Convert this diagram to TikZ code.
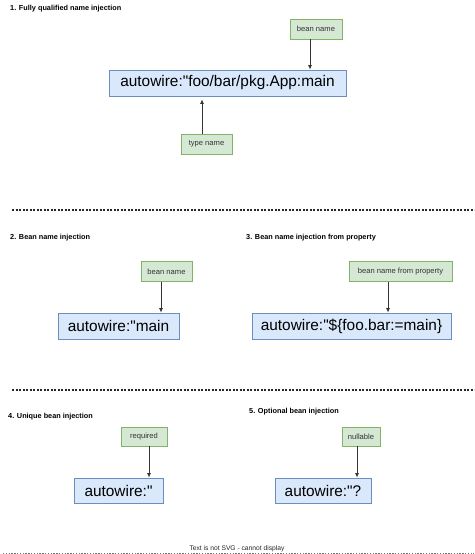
\documentclass[tikz,border=0pt]{standalone}
\usepackage{fontspec}
\setmainfont{Liberation Sans}
\usetikzlibrary{arrows.meta}
\font\boxfont="Liberation Sans" at 15.4pt
\definecolor{bluefill}{HTML}{DAE8FC}
\definecolor{bluedraw}{HTML}{6C8EBF}
\definecolor{greenfill}{HTML}{D5E8D4}
\definecolor{greendraw}{HTML}{82B366}
\tikzset{
  mainbox/.style={draw=bluedraw, fill=bluefill, line width=0.8pt, inner sep=0pt, font=\boxfont},
  tagbox/.style={draw=greendraw, fill=greenfill, line width=0.8pt, inner sep=0pt, minimum height=20pt, font=\fontsize{7.6}{9}\selectfont, text=black!80},
  title/.style={anchor=west, inner sep=0pt, font=\fontsize{7.3}{9}\bfseries\selectfont},
  arr/.style={draw=black!80, line width=0.8pt, -{Latex[length=4.5pt,width=4pt]}},
  sep/.style={draw=black!85, line width=1.2pt, dash pattern=on 2.2pt off 1.3pt},
}
\begin{document}
\begin{tikzpicture}[x=1pt,y=-1pt]
\useasboundingbox (0,0) rectangle (474,554);
% section 1
\node[title] (t1) at (10,9) {1. Fully qualified name injection};
\node[mainbox, minimum width=237pt, minimum height=26pt] (b1) at (227.5,83) {autowire:"foo/bar/pkg.App:main};
\node[tagbox, minimum width=52pt] (bn1) at (316,29) {bean name};
\node[tagbox, minimum width=51pt] (tn1) at (206.5,144) {type name};
\draw[arr] ([xshift=-6pt]bn1.south) -- ([xshift=-6pt]bn1.south |- b1.north);
\draw[arr] ([xshift=-4.5pt]tn1.north) -- ([xshift=-4.5pt,yshift=-3pt]tn1.north |- b1.south);
% separator 1
\coordinate (s1a) at (12,210);
\coordinate (s1b) at (474,210);
\draw[sep] (s1a) -- (s1b);
% section 2
\node[title] (t2) at (10,238) {2. Bean name injection};
\node[mainbox, minimum width=121pt, minimum height=26pt] (b2) at (118.5,326) {autowire:"main};
\node[tagbox, minimum width=51pt] (bn2) at (166.5,271.5) {bean name};
\draw[arr] ([xshift=-5.5pt]bn2.south) -- ([xshift=-5.5pt]bn2.south |- b2.north);
% section 3
\node[title] (t3) at (246,238) {3. Bean name injection from property};
\node[mainbox, minimum width=199pt, minimum height=26pt] (b3) at (351.5,326) {autowire:"\$\{foo.bar:=main\}};
\node[tagbox, minimum width=103pt] (bn3) at (400.5,271.5) {bean name from property};
\draw[arr] ([xshift=-12.5pt]bn3.south) -- ([xshift=-12.5pt]bn3.south |- b3.north);
% separator 2
\coordinate (s2a) at (12,390);
\coordinate (s2b) at (474,390);
\draw[sep] (s2a) -- (s2b);
% section 4
\node[title] (t4) at (8,417) {4. Unique bean injection};
\node[mainbox, minimum width=89pt, minimum height=25pt] (b4) at (118.5,490.5) {autowire:"};
\node[tagbox, minimum width=46pt, minimum height=19pt] (rq) at (144,436.5) {required};
\draw[arr] ([xshift=5pt]rq.south) -- ([xshift=5pt]rq.south |- b4.north);
% section 5
\node[title] (t5) at (249,412) {5. Optional bean injection};
\node[mainbox, minimum width=96pt, minimum height=25pt] (b5) at (323,490.5) {autowire:"?};
\node[tagbox, minimum width=38pt, minimum height=19pt] (nl) at (361,436.5) {nullable};
\draw[arr] ([xshift=-4pt]nl.south) -- ([xshift=-4pt]nl.south |- b5.north);
% footer
\node[inner sep=0pt, font=\fontsize{6.7}{8}\selectfont, text=black!85] (ft) at (237,548.5) {Text is not SVG - cannot display};
\coordinate (s3a) at (3,553);
\coordinate (s3b) at (474,553);
\draw[draw=black!55, line width=0.9pt, dash pattern=on 1.3pt off 1.5pt] (s3a) -- (s3b);
\end{tikzpicture}
\end{document}
